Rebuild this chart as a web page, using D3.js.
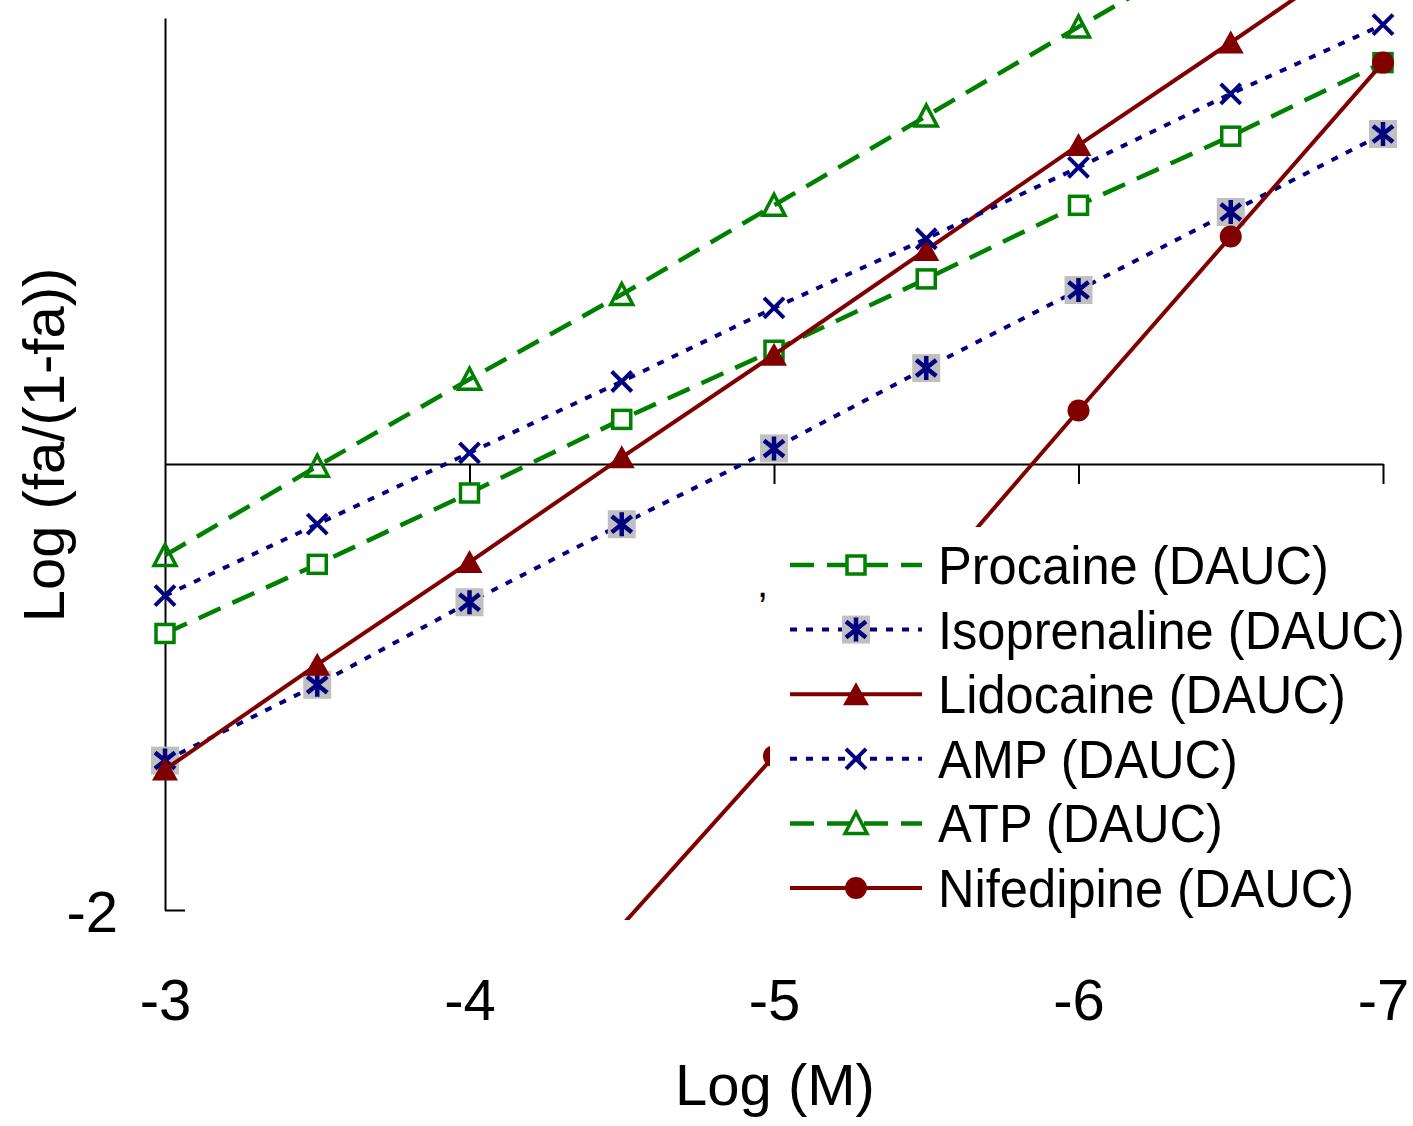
<!DOCTYPE html>
<html>
<head>
<meta charset="utf-8">
<script src="https://cdn.jsdelivr.net/npm/d3@7"></script>
<style>
	body { margin: 0; background: #fff; }
	svg { display: block; }
	text { font-family: Arial, "Liberation Sans", sans-serif; fill: #000; }
</style>
</head>
<body>
<div id="chart"></div>
<script>
var WIDTH = 1413;
var HEIGHT = 1126;

var GREEN = "#008000";
var NAVY = "#000080";
var MAROON = "#800000";

// data
var logM = [-3, -3.5, -4, -4.5, -5, -5.5, -6, -6.5, -7];
var procaine = [-0.76, -0.45, -0.13, 0.20, 0.51, 0.83, 1.16, 1.47, 1.80];
var isoprenaline = [-1.33, -0.99, -0.62, -0.27, 0.07, 0.43, 0.78, 1.13, 1.48];
var lidocaine = [-1.37, -0.90, -0.44, 0.03, 0.49, 0.96, 1.43, 1.89, 2.36];
var amp = [-0.59, -0.27, 0.05, 0.37, 0.70, 1.01, 1.33, 1.66, 1.97];
var atp = [-0.41, -0.01, 0.38, 0.76, 1.16, 1.56, 1.96, 2.35, 2.75];
var nifedipine = [null, null, null, -2.07, -1.31, -0.55, 0.24, 1.02, 1.80];

var xTickValues = [-3, -4, -5, -6, -7];
var yTickValues = [-2];

var series = [
	{ name: "Procaine (DAUC)", values: procaine, color: GREEN, dash: "24,13", width: 4.5, marker: "square" },
	{ name: "Isoprenaline (DAUC)", values: isoprenaline, color: NAVY, dash: "7,9", width: 4, marker: "asterisk" },
	{ name: "Lidocaine (DAUC)", values: lidocaine, color: MAROON, dash: null, width: 4, marker: "triangle" },
	{ name: "AMP (DAUC)", values: amp, color: NAVY, dash: "7,9", width: 4, marker: "x" },
	{ name: "ATP (DAUC)", values: atp, color: GREEN, dash: "24,13", width: 4.5, marker: "openTriangle" },
	{ name: "Nifedipine (DAUC)", values: nifedipine, color: MAROON, dash: null, width: 4, marker: "circle" }
];

var x = d3.scaleLinear().domain([-3, -7]).range([165, 1383]);
var y = d3.scaleLinear().domain([-2, 2]).range([910, 18]);

var svg = d3.select("#chart")
	.append("svg")
	.attr("width", WIDTH)
	.attr("height", HEIGHT);

svg.append("defs").append("clipPath")
	.attr("id", "plot-clip")
	.append("rect")
	.attr("x", 140).attr("y", 0)
	.attr("width", 1273).attr("height", 920);

function drawMarker(g, type, color) {
	if (type === "square") {
		g.append("rect")
			.attr("x", -9).attr("y", -9).attr("width", 18).attr("height", 18)
			.attr("fill", "#fff").attr("stroke", color).attr("stroke-width", 3.5);
	} else if (type === "asterisk") {
		g.append("rect")
			.attr("x", -14).attr("y", -14).attr("width", 28).attr("height", 28)
			.attr("fill", "#c0c0c0");
		g.append("path")
			.attr("d", "M0,-12V12M-10,-8L10,8M-10,8L10,-8")
			.attr("fill", "none").attr("stroke", color).attr("stroke-width", 4.5);
	} else if (type === "triangle") {
		g.append("path")
			.attr("d", "M0,-12L13,11L-13,11Z")
			.attr("fill", color);
	} else if (type === "openTriangle") {
		g.append("path")
			.attr("d", "M0,-11L11,10L-11,10Z")
			.attr("fill", "none").attr("stroke", color).attr("stroke-width", 3.5);
	} else if (type === "x") {
		g.append("path")
			.attr("d", "M-10,-10L10,10M-10,10L10,-10")
			.attr("fill", "none").attr("stroke", color).attr("stroke-width", 4);
	} else if (type === "circle") {
		g.append("circle").attr("r", 11).attr("fill", color);
	}
}

// x axis through zero, ticks only
svg.append("g")
	.attr("transform", `translate(0,${y(0)})`)
	.call(d3.axisBottom(x).tickValues(xTickValues.slice(1)).tickSize(20).tickSizeOuter(0).tickFormat(""))
	.call(g => g.selectAll("line, path").attr("stroke", "#000").attr("stroke-width", 2));

// tick labels sit at the bottom
svg.append("g")
	.attr("transform", "translate(0,1020)")
	.call(d3.axisBottom(x).tickValues(xTickValues).tickSize(0).tickFormat(d => String(d)))
	.call(g => g.select(".domain").remove())
	.call(g => g.selectAll("text")
		.attr("y", 0).attr("dy", null)
		.attr("font-size", 58)
		.style("font-family", "Arial, 'Liberation Sans', sans-serif"));

// y axis
svg.append("g")
	.attr("transform", `translate(${x(-3)},0)`)
	.call(d3.axisLeft(y).tickValues(yTickValues).tickSize(-20).tickSizeOuter(0).tickFormat(""))
	.call(g => g.selectAll("line, path").attr("stroke", "#000").attr("stroke-width", 2));

svg.selectAll(".y-label")
	.data(yTickValues)
	.join("text")
	.attr("class", "y-label")
	.attr("x", 118)
	.attr("y", d => y(d) + 22)
	.attr("text-anchor", "end")
	.attr("font-size", 58)
	.text(d => String(d));

// axis titles
svg.append("text")
	.attr("x", 775)
	.attr("y", 1105)
	.attr("text-anchor", "middle")
	.attr("font-size", 58)
	.text("Log (M)");

svg.append("text")
	.attr("transform", "translate(64,445) rotate(-90)")
	.attr("text-anchor", "middle")
	.attr("font-size", 58)
	.text("Log (fa/(1-fa))");

// series
var line = d3.line()
	.defined(d => d[1] != null)
	.x(d => x(d[0]))
	.y(d => y(d[1]));

var plot = svg.append("g").attr("clip-path", "url(#plot-clip)");

series.forEach(function (s) {
	var pts = logM.map((m, i) => [m, s.values[i]]);
	plot.append("path")
		.datum(pts)
		.attr("d", line)
		.attr("fill", "none")
		.attr("stroke", s.color)
		.attr("stroke-width", s.width)
		.attr("stroke-dasharray", s.dash);

	pts.filter(p => p[1] != null && p[1] >= -2 && p[1] <= 2).forEach(function (p) {
		var g = plot.append("g").attr("transform", `translate(${x(p[0])},${y(p[1])})`);
		drawMarker(g, s.marker, s.color);
	});
});

// stray mark in the source picture
svg.append("text")
	.attr("x", 757)
	.attr("y", 597)
	.attr("font-size", 40)
	.text(",");

// legend
var legend = svg.append("g").attr("class", "legend");

legend.append("rect")
	.attr("x", 770).attr("y", 527)
	.attr("width", 643).attr("height", 400)
	.attr("fill", "#fff");

var rowY = d3.scaleLinear().domain([0, series.length - 1]).range([565, 888]);

series.forEach(function (s, i) {
	var cy = rowY(i);
	legend.append("line")
		.attr("x1", 790).attr("x2", 922)
		.attr("y1", cy).attr("y2", cy)
		.attr("stroke", s.color)
		.attr("stroke-width", s.width)
		.attr("stroke-dasharray", s.dash);
	drawMarker(legend.append("g").attr("transform", `translate(856,${cy})`), s.marker, s.color);
	legend.append("text")
		.attr("transform", `translate(938,${cy + 19}) scale(0.955,1)`)
		.attr("font-size", 53)
		.text(s.name);
});
</script>
</body>
</html>
